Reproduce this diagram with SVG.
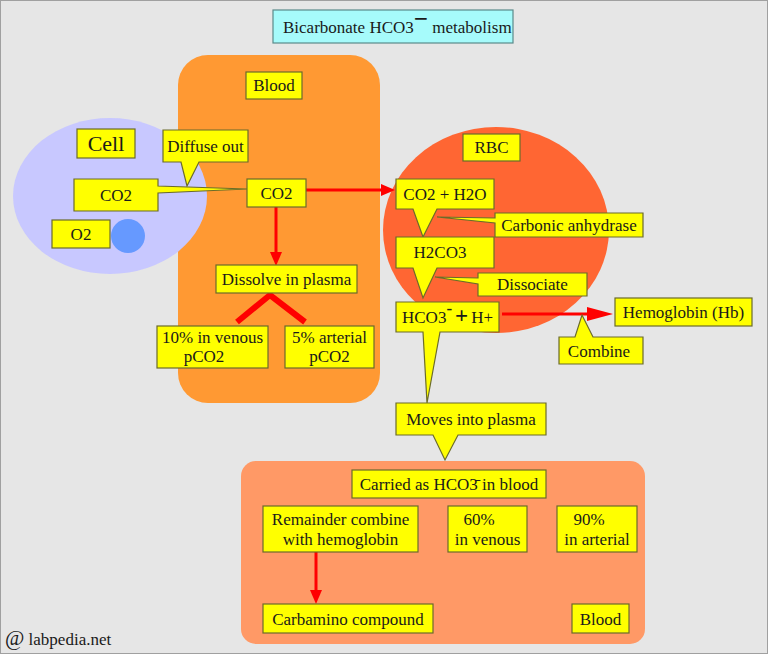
<svg xmlns="http://www.w3.org/2000/svg" width="768" height="654" viewBox="0 0 768 654">
<defs>
<style>
.bx{fill:#ffff00;stroke:#6b6b2a;stroke-width:1.2}
.t{font-family:"Liberation Serif","Times New Roman",serif;font-size:17px;fill:#1a1a1a;text-anchor:middle}
.arr{stroke:#ff0000;stroke-width:3;fill:none}
.ah{fill:#ff0000}
</style>
</defs>
<rect x="0.5" y="0.5" width="767" height="653" fill="#e6e6e6" stroke="#a0a0a0" stroke-width="1"/>

<g id="title">
<rect x="273" y="10" width="240" height="33" fill="#a6fbfb" stroke="#5a8a8a" stroke-width="1.2"/>
<text class="t" x="283" y="33" style="text-anchor:start">Bicarbonate HCO3<tspan dy="-6" font-weight="bold" style="font-size:25px">−</tspan><tspan dy="6"> metabolism</tspan></text>
</g>

<g id="blood-region">
<rect x="178" y="55" width="202" height="348" rx="30" fill="#ff9933"/>
</g>
<g id="cell-region">
<ellipse cx="110" cy="196" rx="97" ry="78" fill="#c8c8ff"/>
<circle cx="128" cy="236" r="17" fill="#6699ff"/>
</g>
<g id="rbc-region">
<ellipse cx="496" cy="230" rx="113" ry="103" fill="#ff6633"/>
</g>
<g id="plasma-region">
<rect x="241" y="461" width="404" height="183" rx="15" fill="#ff9966"/>
</g>

<g id="connectors">
<line class="arr" x1="306" y1="190" x2="383" y2="190"/>
<polygon class="ah" points="395,190 381,184 381,196"/>
<line class="arr" x1="276" y1="207" x2="276" y2="254"/>
<polygon class="ah" points="276,266 270,252 282,252"/>
<polyline points="237,322 270,295 305,322" fill="none" stroke="#ff0000" stroke-width="6"/>
<line class="arr" x1="502" y1="314" x2="590" y2="314"/>
<polygon class="ah" points="613,314 587,307 587,321"/>
<line class="arr" x1="316" y1="552" x2="316" y2="592"/>
<polygon class="ah" points="316,604 310,590 322,590"/>
</g>

<g id="cell-label">
<rect class="bx" x="77" y="129" width="58" height="29"/>
<text class="t" x="106" y="151" style="font-size:22px">Cell</text>
</g>
<g id="diffuse-out">
<path class="bx" d="M163,130 H248 V162 H199 L187,186 L181,162 H163 Z"/>
<text class="t" x="205.5" y="152">Diffuse out</text>
</g>
<g id="co2-cell">
<path class="bx" d="M74,179 H158 V186 L247,189 L158,193 V211 H74 Z"/>
<text class="t" x="116" y="201">CO2</text>
</g>
<g id="o2">
<rect class="bx" x="52" y="220" width="58" height="28"/>
<text class="t" x="81" y="240">O2</text>
</g>
<g id="blood-label">
<rect class="bx" x="246" y="72" width="56" height="27"/>
<text class="t" x="274" y="91">Blood</text>
</g>
<g id="co2-blood">
<rect class="bx" x="247" y="179" width="59" height="28"/>
<text class="t" x="276.5" y="199">CO2</text>
</g>
<g id="dissolve">
<rect class="bx" x="216" y="265" width="141" height="28"/>
<text class="t" x="286.5" y="285">Dissolve in plasma</text>
</g>
<g id="venous-10">
<rect class="bx" x="157" y="326" width="111" height="42"/>
<text class="t" x="212.5" y="343">10% in venous</text>
<text class="t" x="204" y="362">pCO2</text>
</g>
<g id="arterial-5">
<rect class="bx" x="285" y="326" width="89" height="42"/>
<text class="t" x="329.5" y="343">5% arterial</text>
<text class="t" x="329.5" y="362">pCO2</text>
</g>
<g id="rbc-label">
<rect class="bx" x="463" y="134" width="57" height="27"/>
<text class="t" x="491.5" y="153">RBC</text>
</g>
<g id="co2-h2o">
<path class="bx" d="M396,179 H494 V209 H437 L423,237 L413,209 H396 Z"/>
<text class="t" x="445" y="200">CO2 + H2O</text>
</g>
<g id="carbonic-anhydrase">
<path class="bx" d="M495,213 H643 V237 H495 V223 L437,217 L495,218 Z"/>
<text class="t" x="569" y="231">Carbonic anhydrase</text>
</g>
<g id="h2co3">
<path class="bx" d="M396,237 H494 V268 H437 L423,298 L413,268 H396 Z"/>
<text class="t" x="440" y="258">H2CO3</text>
</g>
<g id="dissociate">
<path class="bx" d="M478,273 H587 V296 H478 V284 L435,277 L478,278 Z"/>
<text class="t" x="532.5" y="290">Dissociate</text>
</g>
<g id="hco3-h">
<path class="bx" d="M396,302 H499 V332 H440 L427,403 L423,332 H396 Z"/>
<text class="t" x="402" y="323" style="text-anchor:start">HCO3<tspan dy="-9" font-weight="bold">-</tspan><tspan dy="9" dx="3" font-weight="bold" style="font-size:23px">+</tspan><tspan dx="3">H+</tspan></text>
</g>
<g id="hemoglobin">
<rect class="bx" x="615" y="298" width="137" height="28"/>
<text class="t" x="683.5" y="318">Hemoglobin (Hb)</text>
</g>
<g id="combine">
<path class="bx" d="M559,337 H575 L582,315 L593,337 H643 V364 H559 Z"/>
<text class="t" x="599" y="357">Combine</text>
</g>
<g id="moves-into-plasma">
<path class="bx" d="M396,403 H546 V435 H458 L445,460 L433,435 H396 Z"/>
<text class="t" x="471" y="425">Moves into plasma</text>
</g>
<g id="carried-as">
<rect class="bx" x="352" y="470" width="194" height="28"/>
<text class="t" x="449" y="490">Carried as HCO3̄ in blood</text>
</g>
<g id="remainder">
<rect class="bx" x="263" y="506" width="155" height="46"/>
<text class="t" x="340.5" y="525">Remainder combine</text>
<text class="t" x="340.5" y="545">with hemoglobin</text>
</g>
<g id="venous-60">
<rect class="bx" x="448" y="506" width="79" height="46"/>
<text class="t" x="479" y="525">60%</text>
<text class="t" x="487.5" y="545">in venous</text>
</g>
<g id="arterial-90">
<rect class="bx" x="557" y="506" width="80" height="46"/>
<text class="t" x="589" y="525">90%</text>
<text class="t" x="597" y="545">in arterial</text>
</g>
<g id="carbamino">
<rect class="bx" x="263" y="604" width="170" height="29"/>
<text class="t" x="348" y="625">Carbamino compound</text>
</g>
<g id="blood-bottom">
<rect class="bx" x="572" y="604" width="57" height="29"/>
<text class="t" x="600.5" y="625">Blood</text>
</g>

<text x="5" y="645" style="font-family:'Liberation Serif','Times New Roman',serif;font-size:17px;fill:#1a1a1a"><tspan style="font-size:21px">@</tspan> labpedia.net</text>
</svg>
